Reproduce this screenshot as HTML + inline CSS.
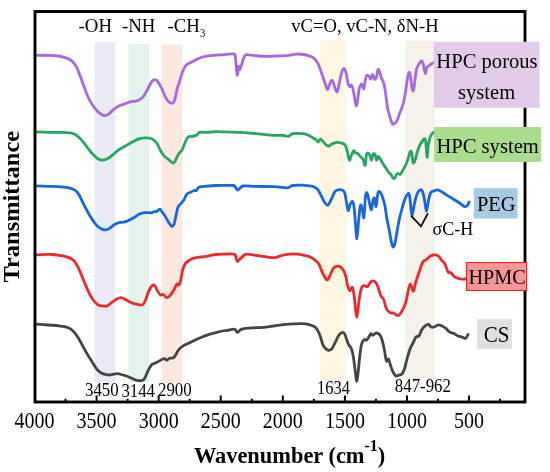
<!DOCTYPE html>
<html><head><meta charset="utf-8"><title>FTIR spectra</title>
<style>html,body{margin:0;padding:0;background:#fff;width:550px;height:472px;overflow:hidden}svg{display:block}</style>
</head><body>
<svg width="550" height="472" viewBox="0 0 550 472">
<rect width="550" height="472" fill="#fff"/>
<rect x="94.5" y="42.3" width="20.7" height="339.7" fill="#e8eaf5"/>
<rect x="128.4" y="44.0" width="21.0" height="338.0" fill="#e5f3ed"/>
<rect x="161.8" y="44.5" width="20.6" height="338.5" fill="#fde8e0"/>
<rect x="320.2" y="40.2" width="25.4" height="339.3" fill="#fdf6e0"/>
<rect x="405.6" y="40.5" width="28.9" height="338.5" fill="#f6f1ea"/>
<path d="M35.0,55.3 C37.4,55.3 45.2,55.2 49.1,55.3 C53.0,55.4 55.9,55.6 58.6,56.0 C61.3,56.4 63.5,57.1 65.3,57.6 C67.0,58.1 67.8,58.4 69.1,59.1 C70.4,59.8 71.6,60.6 72.9,62.0 C74.2,63.4 75.5,65.2 76.8,67.7 C78.1,70.2 79.3,73.9 80.6,77.2 C81.9,80.5 83.1,84.4 84.4,87.7 C85.7,91.0 86.8,94.3 88.2,97.3 C89.6,100.3 91.4,103.4 93.0,105.8 C94.6,108.2 96.0,110.0 97.7,111.6 C99.5,113.2 101.8,114.9 103.5,115.4 C105.2,115.9 106.5,115.5 108.2,114.4 C110.0,113.4 112.1,110.6 114.0,109.1 C115.9,107.6 117.9,106.4 119.7,105.5 C121.5,104.6 123.2,104.6 125.0,103.9 C126.8,103.2 128.6,102.1 130.7,101.6 C132.8,101.1 135.3,101.5 137.4,100.7 C139.5,99.9 141.3,98.9 143.1,96.9 C144.8,94.9 146.5,91.2 147.9,88.7 C149.3,86.2 150.6,83.1 151.7,81.6 C152.8,80.1 153.6,79.8 154.6,79.7 C155.6,79.6 156.3,79.7 157.4,81.0 C158.5,82.3 160.0,85.2 161.3,87.7 C162.6,90.2 163.8,93.9 165.1,96.3 C166.4,98.7 167.6,100.9 168.9,102.0 C170.2,103.1 171.7,103.5 172.7,103.0 C173.7,102.5 174.3,101.4 175.0,99.2 C175.7,97.0 176.2,92.5 176.9,89.6 C177.6,86.7 178.5,84.9 179.4,82.0 C180.3,79.1 181.2,75.2 182.3,72.4 C183.4,69.6 184.7,66.9 186.1,65.2 C187.5,63.6 188.9,63.5 190.8,62.5 C192.7,61.5 195.4,60.1 197.5,59.1 C199.6,58.1 200.6,57.4 203.2,56.8 C205.8,56.2 209.2,55.6 212.8,55.3 C216.4,54.9 221.4,54.9 225.0,54.7 C228.6,54.5 232.5,53.2 234.3,54.1 C236.1,55.0 235.1,56.3 235.6,59.8 C236.1,63.3 236.7,74.0 237.2,75.1 C237.7,76.2 238.0,67.5 238.5,66.5 C239.0,65.5 239.4,69.9 240.0,69.4 C240.6,68.9 241.1,65.9 241.9,63.6 C242.7,61.3 243.7,57.1 244.8,55.6 C245.9,54.1 246.4,54.7 248.6,54.8 C250.8,54.9 255.0,55.7 258.2,56.0 C261.4,56.3 264.5,56.4 267.7,56.4 C270.9,56.4 274.1,56.1 277.3,56.0 C280.5,55.9 283.6,55.9 286.8,55.6 C290.0,55.3 293.4,54.3 296.3,54.1 C299.2,53.9 301.7,54.1 304.0,54.5 C306.3,54.9 308.4,55.6 310.0,56.2 C311.6,56.8 312.5,57.0 313.8,58.1 C315.1,59.2 316.3,60.5 317.6,62.9 C318.9,65.3 320.3,69.4 321.4,72.4 C322.5,75.4 323.3,78.2 324.3,81.0 C325.3,83.8 326.4,88.4 327.2,89.2 C328.0,90.0 328.4,87.3 329.1,85.8 C329.8,84.3 330.7,80.9 331.4,80.4 C332.1,79.9 332.7,81.5 333.3,82.9 C333.9,84.3 334.6,87.1 335.2,88.6 C335.8,90.1 336.5,92.2 337.1,91.9 C337.7,91.6 338.0,89.2 338.6,86.7 C339.2,84.2 339.9,79.9 340.5,77.2 C341.1,74.5 341.8,71.9 342.4,70.5 C343.0,69.1 343.7,68.1 344.3,68.6 C344.9,69.1 345.6,70.9 346.2,73.4 C346.8,76.0 347.5,81.7 348.1,83.9 C348.7,86.1 349.2,86.6 349.7,86.7 C350.2,86.8 350.6,84.8 351.0,84.8 C351.4,84.8 351.8,85.0 352.3,86.7 C352.8,88.5 353.6,92.1 354.2,95.3 C354.8,98.5 355.6,105.1 356.2,105.8 C356.8,106.5 357.2,102.1 357.7,99.2 C358.2,96.3 358.6,91.1 359.2,88.6 C359.8,86.1 360.6,84.7 361.1,84.2 C361.7,83.7 362.1,85.1 362.5,85.8 C362.9,86.5 363.3,89.6 363.8,88.6 C364.3,87.6 364.8,82.2 365.3,80.0 C365.8,77.8 366.2,75.9 366.8,75.3 C367.4,74.7 368.5,75.6 369.1,76.2 C369.8,76.8 370.1,79.4 370.7,79.1 C371.3,78.8 372.0,74.3 372.6,74.3 C373.2,74.3 373.9,78.6 374.5,79.1 C375.1,79.6 375.8,78.8 376.4,77.2 C377.0,75.6 377.5,70.5 378.0,69.6 C378.5,68.6 378.9,70.1 379.5,71.5 C380.1,72.9 380.7,76.2 381.4,78.1 C382.1,80.0 383.0,80.4 383.7,82.9 C384.4,85.5 385.0,89.3 385.6,93.4 C386.2,97.5 386.9,104.1 387.5,107.7 C388.1,111.3 388.8,112.8 389.5,115.3 C390.2,117.8 391.2,121.6 391.9,123.0 C392.6,124.4 393.0,124.2 393.8,123.9 C394.6,123.6 395.7,122.8 396.7,121.1 C397.7,119.3 398.8,115.5 399.6,113.4 C400.4,111.3 400.9,110.4 401.5,108.7 C402.1,107.0 402.8,105.5 403.4,103.0 C404.0,100.5 404.7,97.2 405.3,93.4 C405.9,89.6 406.6,83.5 407.2,80.0 C407.8,76.5 408.6,73.0 409.1,72.4 C409.6,71.8 409.9,73.7 410.4,76.2 C410.9,78.8 411.5,85.3 412.0,87.7 C412.5,90.1 413.0,91.8 413.5,90.5 C414.0,89.2 414.5,83.7 415.0,80.0 C415.5,76.3 416.0,71.3 416.7,68.6 C417.4,65.9 418.4,65.1 419.2,63.8 C420.0,62.5 420.8,60.4 421.5,60.6 C422.2,60.8 422.8,62.7 423.4,64.8 C424.0,66.9 424.7,72.9 425.3,73.4 C425.9,73.9 426.2,69.0 426.8,67.7 C427.4,66.4 428.3,66.5 429.1,65.8 C429.9,65.1 430.6,64.3 431.4,63.8 C432.2,63.2 433.6,62.7 434.0,62.5" fill="none" stroke="#a767de" stroke-width="2.8" stroke-linejoin="round" stroke-linecap="round"/>
<path d="M35.0,131.9 C37.2,132.0 43.6,132.2 48.2,132.3 C52.8,132.4 58.8,132.2 62.7,132.3 C66.6,132.5 69.4,132.6 71.8,133.2 C74.2,133.8 75.5,134.5 77.3,135.9 C79.1,137.3 80.9,139.3 82.7,141.4 C84.5,143.5 86.4,146.3 88.2,148.6 C90.0,150.9 91.9,153.3 93.6,155.0 C95.3,156.7 96.7,158.2 98.2,159.0 C99.7,159.8 101.0,160.2 102.7,160.1 C104.4,160.0 106.4,159.3 108.2,158.3 C110.0,157.3 111.8,155.6 113.6,154.1 C115.4,152.6 117.2,150.8 119.1,149.5 C121.0,148.2 122.8,147.6 125.0,146.3 C127.2,145.0 129.9,143.2 132.3,141.9 C134.7,140.6 137.1,139.3 139.5,138.6 C141.9,137.9 144.7,137.8 146.8,137.9 C148.9,138.0 150.6,138.1 152.3,139.0 C154.0,139.9 155.4,141.3 156.8,143.2 C158.2,145.1 159.3,148.4 160.5,150.5 C161.7,152.6 162.8,154.4 164.1,155.9 C165.4,157.4 167.1,158.3 168.6,159.5 C170.1,160.7 172.0,163.2 173.2,163.2 C174.4,163.2 175.0,161.0 175.9,159.5 C176.8,158.0 177.5,155.8 178.6,154.1 C179.7,152.4 181.1,151.8 182.3,149.5 C183.5,147.2 184.9,142.6 185.9,140.5 C186.9,138.4 187.5,137.5 188.6,136.8 C189.7,136.1 191.1,136.7 192.3,136.5 C193.5,136.3 195.0,135.8 195.9,135.4 C196.8,135.0 197.1,134.6 197.7,134.1 C198.3,133.6 198.0,132.6 199.5,132.3 C201.0,132.0 204.1,132.4 206.8,132.3 C209.5,132.2 212.9,131.8 215.9,131.7 C218.9,131.6 221.3,131.8 225.0,131.9 C228.7,132.0 234.5,132.2 238.2,132.3 C241.9,132.5 244.3,132.6 247.3,132.8 C250.3,133.0 253.4,133.4 256.4,133.7 C259.4,134.0 262.5,134.3 265.5,134.6 C268.5,134.9 271.5,135.2 274.5,135.4 C277.5,135.6 281.3,135.3 283.6,135.5 C285.9,135.7 286.7,136.6 288.2,136.3 C289.7,136.0 291.0,134.2 292.7,133.7 C294.4,133.2 296.1,133.3 298.2,133.4 C300.3,133.5 303.5,133.7 305.5,134.1 C307.5,134.5 308.8,135.4 310.0,136.1 C311.2,136.8 312.0,137.4 313.0,138.0 C314.0,138.6 315.0,138.8 315.9,139.5 C316.8,140.2 317.4,142.1 318.2,142.0 C318.9,141.9 319.7,139.2 320.4,139.0 C321.1,138.8 321.7,140.1 322.6,141.0 C323.5,141.9 324.6,143.6 325.6,144.4 C326.6,145.2 327.4,146.2 328.5,146.1 C329.6,146.0 330.8,144.5 332.2,143.9 C333.6,143.3 335.2,142.6 336.7,142.4 C338.2,142.2 339.7,142.5 341.1,142.9 C342.5,143.3 343.9,143.4 344.9,144.7 C345.9,146.0 346.5,148.4 347.1,150.6 C347.7,152.8 348.2,156.4 348.6,158.0 C349.0,159.6 349.2,160.7 349.7,160.2 C350.2,159.7 350.8,156.6 351.5,155.0 C352.2,153.4 353.1,151.0 353.7,150.6 C354.3,150.2 354.6,152.4 355.2,152.8 C355.8,153.2 356.8,152.8 357.5,153.3 C358.2,153.8 359.0,155.0 359.7,155.8 C360.4,156.6 361.3,157.3 361.9,158.0 C362.5,158.7 362.8,159.0 363.4,160.2 C363.9,161.4 364.7,166.3 365.2,165.4 C365.7,164.5 365.9,157.1 366.4,155.0 C366.9,152.9 367.5,152.7 368.1,152.8 C368.7,152.9 369.5,154.6 370.1,155.8 C370.7,157.0 371.0,160.4 371.5,160.2 C372.0,159.9 372.4,155.3 373.0,154.3 C373.6,153.3 374.4,153.3 375.0,154.3 C375.6,155.3 375.9,159.8 376.4,160.2 C376.9,160.6 377.6,156.8 378.2,156.5 C378.8,156.2 379.4,157.6 380.1,158.7 C380.8,159.8 381.7,161.7 382.6,163.2 C383.5,164.7 384.6,166.1 385.6,167.6 C386.6,169.1 387.6,171.0 388.5,172.1 C389.4,173.2 390.1,173.3 390.8,174.3 C391.6,175.3 392.3,177.4 393.0,178.0 C393.7,178.6 394.3,178.6 394.9,178.0 C395.5,177.4 395.8,175.0 396.4,174.3 C396.9,173.6 397.5,173.6 398.2,173.6 C398.9,173.6 399.7,174.8 400.4,174.3 C401.1,173.8 401.7,172.1 402.6,170.6 C403.5,169.1 404.7,167.5 405.6,165.4 C406.6,163.3 407.5,160.3 408.3,158.0 C409.1,155.7 409.7,152.0 410.3,151.3 C410.9,150.6 411.4,151.7 411.8,153.6 C412.2,155.5 412.6,161.2 413.0,162.5 C413.4,163.8 413.9,162.8 414.5,161.7 C415.1,160.6 415.7,157.9 416.3,155.8 C416.9,153.7 417.5,151.1 418.2,149.1 C418.9,147.1 419.7,145.2 420.4,143.9 C421.1,142.6 422.0,141.9 422.6,141.0 C423.2,140.1 423.6,138.7 424.1,138.7 C424.6,138.7 425.1,137.9 425.6,141.0 C426.1,144.1 426.7,156.5 427.1,157.3 C427.5,158.2 427.6,149.4 428.1,146.1 C428.6,142.8 429.4,139.3 430.1,137.2 C430.8,135.1 431.6,134.3 432.3,133.5 C433.0,132.7 433.8,132.3 434.1,132.1" fill="none" stroke="#28a561" stroke-width="2.8" stroke-linejoin="round" stroke-linecap="round"/>
<path d="M35.0,185.9 C37.2,186.0 43.9,186.2 48.2,186.3 C52.5,186.5 57.3,186.5 60.9,186.8 C64.5,187.1 67.6,187.5 70.0,188.1 C72.4,188.7 74.0,189.3 75.5,190.5 C77.0,191.7 77.9,193.0 79.1,195.0 C80.3,197.0 81.5,199.9 82.7,202.3 C83.9,204.7 85.2,207.2 86.4,209.5 C87.6,211.8 88.5,213.5 90.0,215.9 C91.5,218.3 93.7,222.0 95.5,224.1 C97.3,226.2 99.2,227.6 100.9,228.6 C102.6,229.6 104.0,230.0 105.5,229.9 C107.0,229.8 108.5,229.0 110.0,228.1 C111.5,227.2 113.0,225.4 114.5,224.5 C116.0,223.6 117.3,223.0 119.1,222.6 C120.8,222.2 122.8,222.6 125.0,221.9 C127.2,221.2 129.9,219.9 132.3,218.6 C134.7,217.3 137.4,215.1 139.5,214.1 C141.6,213.1 143.0,212.8 145.0,212.6 C147.0,212.4 149.9,213.0 151.4,212.8 C152.9,212.7 153.2,211.9 154.1,211.7 C155.0,211.5 155.8,211.8 156.8,211.4 C157.8,211.0 159.0,209.0 159.9,209.2 C160.8,209.3 161.5,211.2 162.3,212.3 C163.2,213.4 163.9,214.2 165.0,215.9 C166.1,217.6 167.4,220.5 168.6,222.3 C169.8,224.1 171.0,226.2 171.9,226.5 C172.8,226.8 173.4,225.9 174.1,224.1 C174.8,222.3 175.2,218.8 175.9,215.9 C176.6,213.0 177.2,208.9 178.1,206.8 C179.0,204.7 180.4,204.4 181.4,203.2 C182.4,202.0 183.2,201.0 184.1,199.5 C185.0,198.0 185.7,195.3 186.8,194.1 C187.9,192.9 189.3,192.9 190.5,192.3 C191.7,191.7 193.1,190.8 194.1,190.5 C195.1,190.2 195.6,191.0 196.3,190.5 C197.1,190.0 197.2,188.1 198.6,187.4 C200.0,186.7 202.1,186.6 205.0,186.3 C207.9,186.0 212.6,185.7 215.9,185.5 C219.2,185.3 222.1,185.4 225.0,185.4 C227.9,185.4 231.8,185.2 233.6,185.5 C235.3,185.8 234.9,186.6 235.5,187.3 C236.1,188.1 236.6,189.8 237.3,190.0 C238.1,190.2 238.9,188.9 240.0,188.2 C241.1,187.5 240.9,186.3 243.6,186.0 C246.3,185.7 251.2,186.3 256.4,186.4 C261.5,186.5 269.4,186.5 274.5,186.7 C279.6,186.9 284.3,188.0 287.3,187.8 C290.3,187.6 290.3,185.9 292.7,185.5 C295.1,185.1 298.9,185.0 301.8,185.1 C304.7,185.2 307.9,185.7 310.0,186.0 C312.1,186.3 312.9,186.3 314.2,186.9 C315.5,187.5 316.5,188.0 317.6,189.4 C318.7,190.8 319.9,193.2 321.0,195.3 C322.1,197.4 323.3,200.4 324.4,202.1 C325.5,203.8 326.7,205.6 327.8,205.2 C328.9,204.8 330.1,201.8 331.2,199.6 C332.3,197.4 333.5,193.6 334.6,192.0 C335.7,190.4 336.7,190.2 338.0,189.9 C339.3,189.6 341.1,189.4 342.2,189.9 C343.3,190.4 344.0,190.8 344.7,192.8 C345.4,194.8 345.8,199.1 346.4,202.1 C347.0,205.1 347.5,210.0 348.1,210.6 C348.7,211.2 349.2,207.1 349.8,205.5 C350.4,203.9 351.4,201.4 352.0,201.3 C352.6,201.2 353.1,201.2 353.7,204.7 C354.3,208.2 354.9,216.8 355.4,222.5 C355.9,228.2 356.4,238.9 356.9,238.6 C357.4,238.3 358.0,226.3 358.6,220.8 C359.2,215.3 359.9,207.5 360.5,205.5 C361.1,203.5 361.6,206.9 362.2,208.9 C362.8,210.9 363.3,219.7 363.9,217.4 C364.5,215.1 365.0,199.3 365.6,195.3 C366.2,191.3 366.7,192.5 367.3,193.6 C367.9,194.7 368.6,199.4 369.3,202.1 C370.0,204.8 370.8,210.1 371.4,209.7 C372.0,209.3 372.6,201.4 373.1,199.6 C373.7,197.8 374.2,197.6 374.7,198.7 C375.2,199.8 375.6,207.2 376.1,206.4 C376.6,205.6 377.2,196.1 377.8,193.6 C378.4,191.1 379.1,191.2 379.8,191.6 C380.5,192.0 381.4,193.9 382.2,196.2 C383.0,198.5 384.1,201.7 384.9,205.5 C385.7,209.3 386.2,215.2 386.9,219.1 C387.6,223.0 388.3,225.5 389.0,229.2 C389.7,232.9 390.6,238.1 391.2,241.1 C391.8,244.1 392.2,246.7 392.9,247.0 C393.5,247.3 394.4,245.5 395.1,242.8 C395.8,240.1 396.3,235.1 397.1,230.9 C397.9,226.7 398.9,221.2 399.7,217.4 C400.5,213.6 401.4,211.0 402.2,208.0 C403.0,205.0 403.8,201.8 404.7,199.6 C405.6,197.3 406.5,195.3 407.3,194.5 C408.1,193.7 408.7,192.7 409.3,194.5 C409.9,196.3 410.2,202.0 410.7,205.5 C411.1,209.0 411.4,215.7 412.0,215.7 C412.6,215.7 413.3,208.9 414.1,205.5 C414.9,202.1 415.6,197.9 416.6,195.3 C417.6,192.7 419.0,190.5 420.0,189.9 C421.0,189.3 421.7,189.8 422.5,191.6 C423.3,193.3 424.0,197.1 424.6,200.4 C425.2,203.7 425.8,211.4 426.4,211.4 C427.0,211.4 427.8,203.5 428.5,200.4 C429.2,197.3 429.8,194.4 430.7,192.8 C431.6,191.2 432.5,191.6 433.6,191.1 C434.7,190.6 436.0,189.7 437.4,189.8 C438.8,189.9 440.3,190.9 441.7,191.7 C443.1,192.5 444.3,193.6 445.9,194.6 C447.5,195.6 449.4,196.7 451.2,197.8 C453.0,198.9 454.7,199.8 456.5,201.0 C458.3,202.2 460.4,203.7 461.8,204.7 C463.2,205.7 464.0,206.7 465.0,206.8 C466.0,206.9 466.9,206.0 467.6,205.2 C468.3,204.4 468.8,202.5 469.0,202.0" fill="none" stroke="#1766dd" stroke-width="2.8" stroke-linejoin="round" stroke-linecap="round"/>
<path d="M35.0,255.0 C37.8,254.9 47.2,254.3 51.8,254.5 C56.4,254.7 59.7,255.3 62.7,255.9 C65.7,256.5 68.0,257.2 70.0,258.1 C72.0,259.0 73.1,259.8 74.5,261.4 C75.9,263.0 77.0,265.3 78.2,267.7 C79.4,270.1 80.6,273.0 81.8,275.9 C83.0,278.8 84.3,282.1 85.5,285.0 C86.7,287.9 87.8,290.6 89.1,293.2 C90.4,295.8 92.1,298.5 93.6,300.5 C95.1,302.5 96.7,304.1 98.2,305.0 C99.7,305.9 101.2,305.8 102.7,305.9 C104.2,306.0 105.8,306.5 107.3,305.9 C108.8,305.3 110.3,303.4 111.8,302.3 C113.3,301.2 114.9,300.0 116.4,299.2 C117.9,298.4 119.4,297.6 120.9,297.7 C122.4,297.8 123.9,298.7 125.5,299.5 C127.1,300.3 128.8,301.5 130.5,302.3 C132.2,303.1 133.9,303.7 135.9,304.1 C137.9,304.6 140.8,305.4 142.3,305.0 C143.8,304.6 143.9,303.7 145.0,301.4 C146.1,299.1 147.4,294.1 148.6,291.4 C149.8,288.7 151.2,286.3 152.3,285.4 C153.4,284.5 154.1,284.9 155.0,285.9 C155.9,286.9 156.8,289.9 157.7,291.4 C158.6,292.9 159.6,294.5 160.5,295.0 C161.4,295.5 162.1,294.1 163.2,294.5 C164.2,294.9 165.6,297.6 166.8,297.7 C168.0,297.8 169.3,296.4 170.5,295.0 C171.7,293.6 173.0,291.3 174.1,289.5 C175.2,287.7 176.1,284.9 176.8,284.1 C177.6,283.4 178.0,285.4 178.6,285.0 C179.2,284.6 179.9,283.7 180.5,281.4 C181.1,279.1 181.6,274.3 182.3,271.4 C183.1,268.5 183.6,266.1 185.0,264.1 C186.4,262.1 188.4,260.6 190.5,259.5 C192.6,258.4 195.0,257.9 197.7,257.4 C200.4,256.9 203.8,256.8 206.8,256.3 C209.8,255.8 212.9,254.9 215.9,254.5 C218.9,254.1 221.9,254.2 225.0,254.1 C228.1,254.0 232.7,253.5 234.5,254.2 C236.3,254.9 235.5,257.0 236.0,258.2 C236.5,259.4 236.8,261.3 237.3,261.5 C237.8,261.7 238.5,260.2 239.1,259.6 C239.7,259.1 240.3,258.7 240.9,258.2 C241.5,257.7 241.8,257.1 242.7,256.4 C243.6,255.7 244.1,254.3 246.4,254.2 C248.7,254.0 253.2,255.1 256.4,255.5 C259.6,255.9 262.5,256.3 265.5,256.7 C268.5,257.1 271.8,257.8 274.5,257.6 C277.2,257.4 279.4,256.1 281.8,255.5 C284.2,254.9 286.4,254.4 289.1,254.2 C291.8,254.0 295.2,253.9 298.2,254.2 C301.2,254.5 305.3,255.6 307.3,256.0 C309.3,256.4 308.9,256.3 310.0,256.9 C311.1,257.5 312.8,258.3 314.2,259.4 C315.6,260.5 317.2,261.6 318.5,263.6 C319.8,265.6 320.8,268.9 321.9,271.3 C323.0,273.7 324.3,276.7 325.3,278.1 C326.3,279.5 327.0,280.3 327.8,279.7 C328.6,279.1 329.3,276.7 330.3,274.7 C331.3,272.7 332.4,269.3 333.7,267.9 C335.0,266.5 336.6,266.1 338.0,266.2 C339.4,266.3 340.9,267.1 342.2,268.7 C343.5,270.2 344.7,272.7 345.6,275.5 C346.5,278.3 346.9,283.1 347.6,285.7 C348.3,288.2 349.0,290.5 349.8,290.8 C350.6,291.1 351.6,286.3 352.4,287.4 C353.2,288.5 353.7,292.6 354.4,297.5 C355.1,302.4 355.8,316.7 356.6,317.0 C357.4,317.3 358.4,304.1 359.2,299.2 C360.0,294.3 360.9,289.6 361.7,287.4 C362.5,285.1 363.2,285.8 364.2,285.7 C365.2,285.6 366.6,287.0 367.6,286.5 C368.6,286.0 369.4,283.5 370.2,282.6 C371.0,281.7 371.5,281.0 372.4,280.9 C373.2,280.8 374.4,281.1 375.3,282.0 C376.2,282.9 376.9,284.2 377.8,286.5 C378.7,288.8 379.9,293.7 380.9,295.9 C381.9,298.1 382.7,297.4 383.6,299.5 C384.5,301.6 385.3,306.4 386.4,308.6 C387.5,310.8 388.8,311.8 390.0,312.6 C391.2,313.4 392.2,312.7 393.6,313.2 C395.0,313.7 396.8,315.8 398.2,315.5 C399.6,315.2 400.6,313.4 401.8,311.4 C403.0,309.3 404.4,306.7 405.5,303.2 C406.6,299.7 407.4,293.7 408.2,290.5 C409.0,287.3 409.5,284.0 410.4,284.1 C411.2,284.2 412.4,291.5 413.3,291.4 C414.2,291.2 414.5,286.4 415.5,283.2 C416.5,280.0 417.9,275.8 419.1,272.3 C420.3,268.8 421.5,264.4 422.7,262.3 C423.9,260.2 425.2,260.5 426.4,259.5 C427.6,258.5 428.8,257.1 430.0,256.3 C431.2,255.6 432.2,255.1 433.6,255.0 C435.0,254.9 436.8,255.0 438.2,255.9 C439.6,256.8 440.8,259.3 441.8,260.5 C442.9,261.7 443.7,262.0 444.5,263.2 C445.3,264.4 445.8,266.2 446.4,267.7 C447.0,269.2 447.4,271.5 448.2,272.3 C448.9,273.1 449.8,271.9 450.9,272.6 C451.9,273.4 453.1,275.8 454.5,276.8 C455.9,277.8 457.7,278.2 459.1,278.6 C460.5,279.0 461.6,279.2 462.7,279.2 C463.8,279.2 465.4,278.7 466.0,278.6" fill="none" stroke="#ec2a2e" stroke-width="2.8" stroke-linejoin="round" stroke-linecap="round"/>
<path d="M35.0,324.1 C37.2,324.2 44.2,324.7 48.2,325.0 C52.2,325.3 55.8,325.4 59.1,325.9 C62.4,326.3 65.8,326.8 68.2,327.7 C70.6,328.6 71.9,329.7 73.6,331.4 C75.3,333.1 76.7,335.3 78.2,337.7 C79.7,340.1 81.2,343.2 82.7,345.9 C84.2,348.6 85.8,351.5 87.3,354.1 C88.8,356.7 90.3,359.0 91.8,361.4 C93.3,363.8 94.9,366.7 96.4,368.6 C97.9,370.5 99.2,371.8 100.9,372.8 C102.6,373.8 104.6,374.3 106.4,374.6 C108.2,374.9 110.0,374.8 111.8,374.6 C113.6,374.4 115.5,373.5 117.3,373.6 C119.1,373.7 121.4,374.7 122.7,375.0 C124.0,375.3 123.7,375.1 125.0,375.5 C126.3,375.9 128.7,376.9 130.5,377.7 C132.3,378.5 133.9,379.6 135.9,380.1 C137.9,380.6 140.8,380.9 142.3,380.5 C143.8,380.1 144.1,379.2 145.0,377.7 C145.9,376.2 146.6,373.5 147.7,371.4 C148.8,369.3 150.2,366.4 151.4,365.0 C152.6,363.6 153.7,363.9 155.0,363.2 C156.3,362.5 158.0,361.6 159.5,360.8 C161.0,360.0 162.9,358.7 164.1,358.6 C165.3,358.5 165.9,360.2 166.8,360.1 C167.7,360.1 168.4,358.7 169.5,358.3 C170.6,357.9 172.1,358.3 173.2,357.7 C174.3,357.1 175.0,355.9 175.9,354.6 C176.8,353.3 177.4,351.3 178.6,349.9 C179.8,348.4 181.5,347.0 183.2,345.9 C184.9,344.8 186.8,344.1 188.6,343.2 C190.4,342.3 192.0,341.5 194.1,340.5 C196.2,339.5 199.0,338.2 201.4,337.2 C203.8,336.2 206.2,335.4 208.6,334.6 C211.0,333.8 213.2,333.3 215.9,332.6 C218.6,331.9 223.1,330.9 225.0,330.5 C226.9,330.1 225.7,330.7 227.3,330.5 C228.9,330.3 232.8,328.9 234.5,329.2 C236.2,329.5 236.2,332.2 237.3,332.3 C238.4,332.4 239.5,330.2 240.9,329.5 C242.3,328.8 242.9,328.6 245.5,328.3 C248.1,328.0 253.1,327.9 256.4,327.7 C259.7,327.5 262.5,327.5 265.5,327.2 C268.5,326.9 271.5,326.3 274.5,325.9 C277.5,325.5 280.6,324.9 283.6,324.6 C286.6,324.3 289.7,324.0 292.7,323.9 C295.7,323.8 299.1,323.6 301.8,323.7 C304.5,323.8 307.0,324.1 309.1,324.6 C311.2,325.1 312.8,325.6 314.2,326.5 C315.6,327.4 316.6,328.6 317.6,330.3 C318.7,332.1 319.6,334.5 320.5,337.0 C321.4,339.5 322.3,343.5 323.2,345.5 C324.1,347.5 325.2,348.1 326.1,348.9 C327.0,349.7 327.6,350.4 328.6,350.3 C329.6,350.2 330.9,350.0 332.0,348.6 C333.1,347.2 334.3,344.3 335.4,342.1 C336.5,339.9 337.7,336.9 338.8,335.3 C339.9,333.7 341.2,332.7 342.2,332.5 C343.2,332.3 344.0,333.0 344.7,334.0 C345.4,335.0 345.8,336.9 346.4,338.7 C347.0,340.5 347.8,343.0 348.6,344.7 C349.5,346.4 350.6,346.5 351.5,348.9 C352.4,351.3 353.1,355.2 353.7,359.1 C354.3,363.1 354.9,368.9 355.4,372.6 C355.9,376.3 356.3,381.4 356.8,381.1 C357.3,380.8 357.8,375.4 358.3,370.9 C358.8,366.4 359.4,358.5 360.0,354.0 C360.6,349.5 361.0,346.2 361.7,343.8 C362.4,341.4 363.3,340.2 364.2,339.6 C365.1,339.0 365.9,340.7 366.8,340.1 C367.7,339.5 368.6,337.3 369.3,336.2 C370.0,335.1 370.4,333.8 371.0,333.6 C371.6,333.5 372.0,335.4 372.7,335.3 C373.4,335.2 374.6,333.7 375.3,333.3 C376.0,332.9 376.2,332.7 377.0,333.0 C377.8,333.3 379.1,333.7 380.0,335.0 C380.9,336.3 381.7,338.5 382.4,341.0 C383.1,343.5 383.7,346.7 384.4,350.0 C385.1,353.3 385.7,359.5 386.4,361.0 C387.1,362.5 387.7,358.3 388.4,359.0 C389.1,359.7 389.6,362.8 390.4,365.0 C391.2,367.2 392.1,370.2 393.0,372.0 C393.9,373.8 395.0,375.5 396.0,376.0 C397.0,376.5 398.0,375.3 399.0,375.0 C400.0,374.7 401.1,375.0 402.0,374.0 C402.9,373.0 403.6,371.5 404.4,369.0 C405.2,366.5 406.1,362.3 407.0,359.0 C407.9,355.7 409.0,351.7 410.0,349.0 C411.0,346.3 412.0,345.0 413.0,343.0 C414.0,341.0 415.0,338.2 416.0,337.0 C417.0,335.8 418.1,337.2 419.0,336.0 C419.9,334.8 420.6,331.7 421.6,330.0 C422.6,328.3 423.9,326.9 425.0,326.0 C426.1,325.1 427.4,324.2 428.4,324.4 C429.4,324.6 430.1,326.6 431.0,327.0 C431.9,327.4 432.8,327.3 434.0,327.0 C435.2,326.7 436.7,325.2 438.0,325.0 C439.3,324.8 440.7,325.4 442.0,326.0 C443.3,326.6 444.8,327.5 446.0,328.4 C447.2,329.3 447.7,330.7 449.0,331.6 C450.3,332.5 452.5,332.9 454.0,333.6 C455.5,334.3 456.7,335.4 458.0,336.0 C459.3,336.6 460.7,336.6 462.0,337.0 C463.3,337.4 464.6,338.8 465.6,338.4 C466.6,338.0 467.6,335.1 468.0,334.4" fill="none" stroke="#444444" stroke-width="2.8" stroke-linejoin="round" stroke-linecap="round"/>
<polyline points="411.2,215.8 421,226.3 427.9,213.4" fill="none" stroke="#000" stroke-width="1.8"/>
<rect x="35.0" y="11.5" width="490.0" height="390.5" fill="none" stroke="#000" stroke-width="2.9"/>
<line x1="65.54" y1="402.0" x2="65.54" y2="398.8" stroke="#000" stroke-width="2"/>
<line x1="96.58" y1="402.0" x2="96.58" y2="395.5" stroke="#000" stroke-width="2"/>
<line x1="127.62" y1="402.0" x2="127.62" y2="398.8" stroke="#000" stroke-width="2"/>
<line x1="158.66" y1="402.0" x2="158.66" y2="395.5" stroke="#000" stroke-width="2"/>
<line x1="189.70" y1="402.0" x2="189.70" y2="398.8" stroke="#000" stroke-width="2"/>
<line x1="220.74" y1="402.0" x2="220.74" y2="395.5" stroke="#000" stroke-width="2"/>
<line x1="251.78" y1="402.0" x2="251.78" y2="398.8" stroke="#000" stroke-width="2"/>
<line x1="282.82" y1="402.0" x2="282.82" y2="395.5" stroke="#000" stroke-width="2"/>
<line x1="313.86" y1="402.0" x2="313.86" y2="398.8" stroke="#000" stroke-width="2"/>
<line x1="344.90" y1="402.0" x2="344.90" y2="395.5" stroke="#000" stroke-width="2"/>
<line x1="375.94" y1="402.0" x2="375.94" y2="398.8" stroke="#000" stroke-width="2"/>
<line x1="406.98" y1="402.0" x2="406.98" y2="395.5" stroke="#000" stroke-width="2"/>
<line x1="438.02" y1="402.0" x2="438.02" y2="398.8" stroke="#000" stroke-width="2"/>
<line x1="469.06" y1="402.0" x2="469.06" y2="395.5" stroke="#000" stroke-width="2"/>
<line x1="500.10" y1="402.0" x2="500.10" y2="398.8" stroke="#000" stroke-width="2"/>
<rect x="433.8" y="41.8" width="105.7" height="66.0" fill="#e2cbe8"/>
<rect x="434.1" y="127.0" width="106.9" height="35.0" fill="#a9dc8c"/>
<rect x="473.8" y="188.2" width="43.7" height="30.3" fill="#a5cae1"/>
<rect x="466.5" y="262.5" width="60.0" height="28.0" fill="#f69696" stroke="#fa1e1e" stroke-width="1"/>
<rect x="477.1" y="319.1" width="34.8" height="29.8" fill="#e0e0e0"/>
<text x="487.0" y="68.1" font-size="20.6" text-anchor="middle" font-family="Liberation Serif, Times New Roman, serif" >HPC porous</text>
<text x="486.6" y="99.3" font-size="20.6" text-anchor="middle" font-family="Liberation Serif, Times New Roman, serif" >system</text>
<text x="487.6" y="153.1" font-size="20.6" text-anchor="middle" font-family="Liberation Serif, Times New Roman, serif" >HPC system</text>
<text x="496.2" y="210.6" font-size="20.4" text-anchor="middle" font-family="Liberation Serif, Times New Roman, serif" >PEG</text>
<text x="497.1" y="283.6" font-size="20.2" text-anchor="middle" font-family="Liberation Serif, Times New Roman, serif" >HPMC</text>
<text transform="translate(496.6,342.1) scale(1,1.08)" font-size="21" text-anchor="middle" font-family="Liberation Serif, Times New Roman, serif">CS</text>
<text x="78.6" y="32.1" font-size="18.8" text-anchor="start" font-family="Liberation Serif, Times New Roman, serif" >-OH</text>
<text x="121.9" y="32.1" font-size="18.8" text-anchor="start" font-family="Liberation Serif, Times New Roman, serif" >-NH</text>
<text x="167.4" y="32.1" font-size="18.8" text-anchor="start" font-family="Liberation Serif, Times New Roman, serif" >-CH</text>
<text transform="translate(200.0,37.4) scale(0.8,1)" font-size="13.4" font-family="Liberation Serif, Times New Roman, serif">3</text>
<text x="291.3" y="32.4" font-size="18.6" text-anchor="start" font-family="Liberation Serif, Times New Roman, serif" >vC=O, vC-N, δN-H</text>
<text x="432.6" y="235.3" font-size="18.0" text-anchor="start" font-family="Liberation Serif, Times New Roman, serif" >σC-H</text>
<text transform="translate(85.0,396.4) scale(0.895,1)" font-size="18.8" font-family="Liberation Serif, Times New Roman, serif">3450</text>
<text transform="translate(121.4,396.5) scale(0.895,1)" font-size="18.8" font-family="Liberation Serif, Times New Roman, serif">3144</text>
<text transform="translate(158.0,396.4) scale(0.895,1)" font-size="18.8" font-family="Liberation Serif, Times New Roman, serif">2900</text>
<text transform="translate(317.0,393.6) scale(0.885,1)" font-size="18.6" font-family="Liberation Serif, Times New Roman, serif">1634</text>
<text transform="translate(394.8,391.8) scale(0.920,1)" font-size="18.3" font-family="Liberation Serif, Times New Roman, serif">847-962</text>
<text transform="translate(34.50,428.0) scale(1,1.12)" font-size="20" text-anchor="middle" font-family="Liberation Serif, Times New Roman, serif">4000</text>
<text transform="translate(96.58,428.0) scale(1,1.12)" font-size="20" text-anchor="middle" font-family="Liberation Serif, Times New Roman, serif">3500</text>
<text transform="translate(158.66,428.0) scale(1,1.12)" font-size="20" text-anchor="middle" font-family="Liberation Serif, Times New Roman, serif">3000</text>
<text transform="translate(220.74,428.0) scale(1,1.12)" font-size="20" text-anchor="middle" font-family="Liberation Serif, Times New Roman, serif">2500</text>
<text transform="translate(282.82,428.0) scale(1,1.12)" font-size="20" text-anchor="middle" font-family="Liberation Serif, Times New Roman, serif">2000</text>
<text transform="translate(344.90,428.0) scale(1,1.12)" font-size="20" text-anchor="middle" font-family="Liberation Serif, Times New Roman, serif">1500</text>
<text transform="translate(406.98,428.0) scale(1,1.12)" font-size="20" text-anchor="middle" font-family="Liberation Serif, Times New Roman, serif">1000</text>
<text transform="translate(469.06,428.0) scale(1,1.12)" font-size="20" text-anchor="middle" font-family="Liberation Serif, Times New Roman, serif">500</text>
<text x="289.6" y="463.2" font-size="22.4" text-anchor="middle" font-family="Liberation Serif, Times New Roman, serif" font-weight="bold">Wavenumber (cm<tspan font-size="16" dy="-12">-1</tspan><tspan dy="12">)</tspan></text>
<text transform="translate(18.9,206.7) rotate(-90) scale(1.045,1)" font-size="23.4" text-anchor="middle" font-family="Liberation Serif, Times New Roman, serif" font-weight="bold">Transmittance</text>
</svg>
</body></html>
